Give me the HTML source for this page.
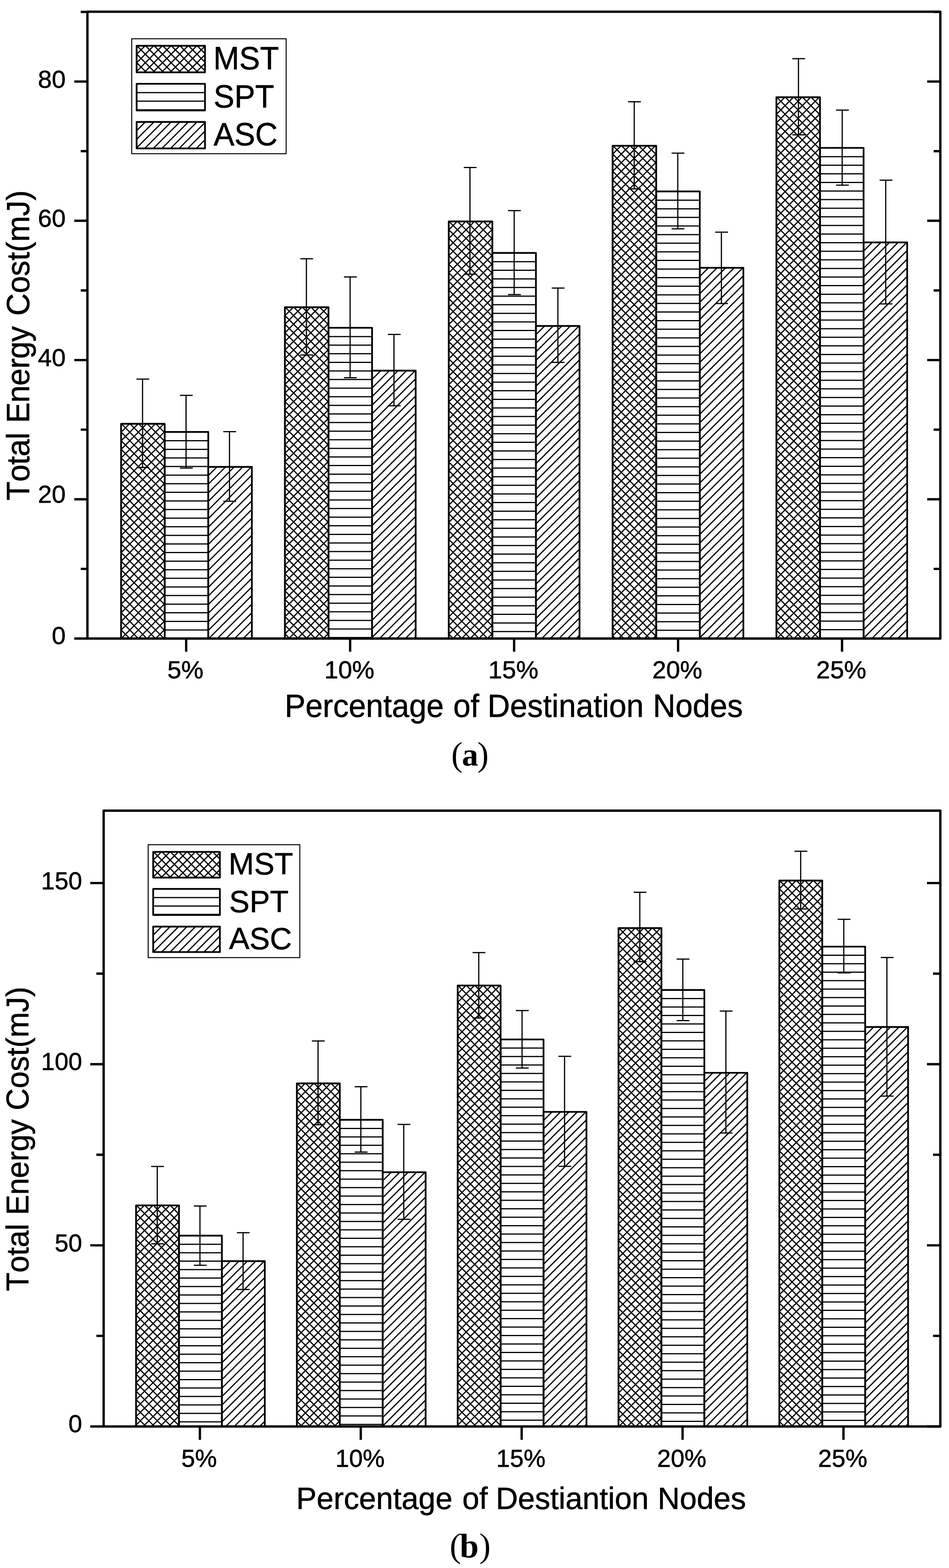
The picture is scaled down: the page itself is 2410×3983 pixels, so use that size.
<!DOCTYPE html>
<html lang="en"><head><meta charset="utf-8"><title>Total Energy Cost</title>
<style>html,body{margin:0;padding:0;background:#fff}body{width:2410px;height:3983px;overflow:hidden}svg{display:block}.t{font-family:"Liberation Sans",sans-serif;fill:#000;stroke:#000;stroke-width:.8px;stroke-linejoin:round;font-kerning:none;font-variant-ligatures:none}.s{font-family:"Liberation Serif",serif;fill:#000}</style></head><body>
<svg width="2410" height="3983" viewBox="0 0 2410 3983">
<rect width="2410" height="3983" fill="#fff"/>
<g fill="none" stroke="#000" stroke-linecap="butt" stroke-linejoin="round">
<path d="M307.5 1098L328.9 1076.5M307.5 1119.8L350.8 1076.5M307.5 1141.7L372.6 1076.5M307.5 1163.5L394.5 1076.5M307.5 1185.3L416.4 1076.5M307.5 1207.2L418.2 1096.5M307.5 1229L418.2 1118.3M307.5 1250.9L418.2 1140.2M307.5 1272.8L418.2 1162M307.5 1294.6L418.2 1183.9M307.5 1316.5L418.2 1205.8M307.5 1338.3L418.2 1227.6M307.5 1360.2L418.2 1249.5M307.5 1382L418.2 1271.3M307.5 1403.8L418.2 1293.2M307.5 1425.7L418.2 1315M307.5 1447.6L418.2 1336.9M307.5 1469.4L418.2 1358.7M307.5 1491.2L418.2 1380.6M307.5 1513.1L418.2 1402.4M307.5 1535L418.2 1424.2M307.5 1556.8L418.2 1446.1M307.5 1578.7L418.2 1468M307.5 1600.5L418.2 1489.8M307.9 1622L418.2 1511.7M329.7 1622L418.2 1533.5M351.6 1622L418.2 1555.4M373.4 1622L418.2 1577.2M395.3 1622L418.2 1599.1M417.1 1622L418.2 1620.9M307.5 1600.1L329.4 1622M307.5 1578.2L351.2 1622M307.5 1556.4L373.1 1622M307.5 1534.5L394.9 1622M307.5 1512.7L416.8 1622M307.5 1490.8L418.2 1601.5M307.5 1469L418.2 1579.7M307.5 1447.2L418.2 1557.8M307.5 1425.3L418.2 1536M307.5 1403.5L418.2 1514.2M307.5 1381.6L418.2 1492.3M307.5 1359.8L418.2 1470.5M307.5 1337.9L418.2 1448.6M307.5 1316L418.2 1426.8M307.5 1294.2L418.2 1404.9M307.5 1272.3L418.2 1383M307.5 1250.5L418.2 1361.2M307.5 1228.7L418.2 1339.3M307.5 1206.8L418.2 1317.5M307.5 1185L418.2 1295.7M307.5 1163.1L418.2 1273.8M307.5 1141.2L418.2 1252M307.5 1119.4L418.2 1230.1M307.5 1097.5L418.2 1208.2M308.3 1076.5L418.2 1186.4M330.1 1076.5L418.2 1164.5M352 1076.5L418.2 1142.7M373.9 1076.5L418.2 1120.8M395.7 1076.5L418.2 1099M417.6 1076.5L418.2 1077.2" stroke-width="3.1"/>
<rect x="307.5" y="1076.5" width="110.7" height="545.5" stroke-width="4.4"/>
<path d="M418.2 1119.5H528.9M418.2 1141.4H528.9M418.2 1163.2H528.9M418.2 1185.1H528.9M418.2 1206.9H528.9M418.2 1228.8H528.9M418.2 1250.6H528.9M418.2 1272.5H528.9M418.2 1294.3H528.9M418.2 1316.2H528.9M418.2 1338H528.9M418.2 1359.9H528.9M418.2 1381.7H528.9M418.2 1403.6H528.9M418.2 1425.4H528.9M418.2 1447.3H528.9M418.2 1469.1H528.9M418.2 1491H528.9M418.2 1512.8H528.9M418.2 1534.7H528.9M418.2 1556.5H528.9M418.2 1578.4H528.9M418.2 1600.2H528.9" stroke-width="3"/>
<rect x="418.2" y="1097.3" width="110.7" height="524.7" stroke-width="4.4"/>
<path d="M528.9 1208.2L551 1186M528.9 1230L572.9 1186M528.9 1251.8L594.8 1186M528.9 1273.7L616.6 1186M528.9 1295.5L638.4 1186M528.9 1317.4L639.6 1206.7M528.9 1339.2L639.6 1228.5M528.9 1361.1L639.6 1250.4M528.9 1383L639.6 1272.2M528.9 1404.8L639.6 1294.1M528.9 1426.7L639.6 1316M528.9 1448.5L639.6 1337.8M528.9 1470.3L639.6 1359.7M528.9 1492.2L639.6 1381.5M528.9 1514L639.6 1403.3M528.9 1535.9L639.6 1425.2M528.9 1557.8L639.6 1447M528.9 1579.6L639.6 1468.9M528.9 1601.5L639.6 1490.8M530.2 1622L639.6 1512.6M552 1622L639.6 1534.5M573.9 1622L639.6 1556.3M595.8 1622L639.6 1578.2M617.6 1622L639.6 1600" stroke-width="3.1"/>
<rect x="528.9" y="1186" width="110.7" height="436" stroke-width="4.4"/>
<path d="M723.5 801.9L745 780.4M723.5 823.7L766.8 780.4M723.5 845.5L788.7 780.4M723.5 867.4L810.5 780.4M723.5 889.2L832.4 780.4M723.5 911.1L834.2 800.4M723.5 933L834.2 822.2M723.5 954.8L834.2 844.1M723.5 976.6L834.2 865.9M723.5 998.5L834.2 887.8M723.5 1020.4L834.2 909.6M723.5 1042.2L834.2 931.5M723.5 1064L834.2 953.3M723.5 1085.9L834.2 975.2M723.5 1107.8L834.2 997M723.5 1129.6L834.2 1018.9M723.5 1151.5L834.2 1040.8M723.5 1173.3L834.2 1062.6M723.5 1195.2L834.2 1084.5M723.5 1217L834.2 1106.3M723.5 1238.8L834.2 1128.2M723.5 1260.7L834.2 1150M723.5 1282.5L834.2 1171.8M723.5 1304.4L834.2 1193.7M723.5 1326.2L834.2 1215.5M723.5 1348.1L834.2 1237.4M723.5 1370L834.2 1259.2M723.5 1391.8L834.2 1281.1M723.5 1413.7L834.2 1303M723.5 1435.5L834.2 1324.8M723.5 1457.3L834.2 1346.7M723.5 1479.2L834.2 1368.5M723.5 1501.1L834.2 1390.3M723.5 1522.9L834.2 1412.2M723.5 1544.8L834.2 1434M723.5 1566.6L834.2 1455.9M723.5 1588.5L834.2 1477.8M723.5 1610.3L834.2 1499.6M733.7 1622L834.2 1521.5M755.5 1622L834.2 1543.3M777.4 1622L834.2 1565.2M799.2 1622L834.2 1587M821.1 1622L834.2 1608.8M723.5 1609.9L735.6 1622M723.5 1588.1L757.5 1622M723.5 1566.2L779.3 1622M723.5 1544.3L801.2 1622M723.5 1522.5L823 1622M723.5 1500.7L834.2 1611.4M723.5 1478.8L834.2 1589.5M723.5 1457L834.2 1567.7M723.5 1435.1L834.2 1545.8M723.5 1413.2L834.2 1524M723.5 1391.4L834.2 1502.1M723.5 1369.6L834.2 1480.2M723.5 1347.7L834.2 1458.4M723.5 1325.8L834.2 1436.6M723.5 1304L834.2 1414.7M723.5 1282.2L834.2 1392.8M723.5 1260.3L834.2 1371M723.5 1238.5L834.2 1349.2M723.5 1216.6L834.2 1327.3M723.5 1194.8L834.2 1305.5M723.5 1172.9L834.2 1283.6M723.5 1151L834.2 1261.8M723.5 1129.2L834.2 1239.9M723.5 1107.3L834.2 1218M723.5 1085.5L834.2 1196.2M723.5 1063.7L834.2 1174.3M723.5 1041.8L834.2 1152.5M723.5 1020L834.2 1130.7M723.5 998.1L834.2 1108.8M723.5 976.2L834.2 1087M723.5 954.4L834.2 1065.1M723.5 932.5L834.2 1043.2M723.5 910.7L834.2 1021.4M723.5 888.9L834.2 999.5M723.5 867L834.2 977.7M723.5 845.1L834.2 955.9M723.5 823.3L834.2 934M723.5 801.4L834.2 912.2M724.3 780.4L834.2 890.3M746.2 780.4L834.2 868.5M768 780.4L834.2 846.6M789.9 780.4L834.2 824.8M811.8 780.4L834.2 802.9M833.6 780.4L834.2 781.1" stroke-width="3.1"/>
<rect x="723.5" y="780.4" width="110.7" height="841.6" stroke-width="4.4"/>
<path d="M834.2 854.9H945M834.2 876.7H945M834.2 898.6H945M834.2 920.4H945M834.2 942.3H945M834.2 964.1H945M834.2 986H945M834.2 1007.8H945M834.2 1029.7H945M834.2 1051.5H945M834.2 1073.3H945M834.2 1095.2H945M834.2 1117H945M834.2 1138.9H945M834.2 1160.7H945M834.2 1182.6H945M834.2 1204.4H945M834.2 1226.3H945M834.2 1248.1H945M834.2 1270H945M834.2 1291.8H945M834.2 1313.7H945M834.2 1335.5H945M834.2 1357.4H945M834.2 1379.2H945M834.2 1401.1H945M834.2 1422.9H945M834.2 1444.8H945M834.2 1466.6H945M834.2 1488.5H945M834.2 1510.3H945M834.2 1532.2H945M834.2 1554H945M834.2 1575.9H945M834.2 1597.7H945M834.2 1619.6H945" stroke-width="3"/>
<rect x="834.2" y="832.6" width="110.7" height="789.4" stroke-width="4.4"/>
<path d="M944.9 963.6L967.1 941.5M944.9 985.5L988.9 941.5M944.9 1007.4L1010.8 941.5M944.9 1029.2L1032.6 941.5M944.9 1051L1054.5 941.5M944.9 1072.9L1055.6 962.2M944.9 1094.8L1055.6 984.1M944.9 1116.6L1055.6 1005.9M944.9 1138.5L1055.6 1027.8M944.9 1160.3L1055.6 1049.6M944.9 1182.2L1055.6 1071.5M944.9 1204L1055.6 1093.3M944.9 1225.8L1055.6 1115.2M944.9 1247.7L1055.6 1137M944.9 1269.5L1055.6 1158.9M944.9 1291.4L1055.6 1180.7M944.9 1313.2L1055.6 1202.6M944.9 1335.1L1055.6 1224.4M944.9 1357L1055.6 1246.2M944.9 1378.8L1055.6 1268.1M944.9 1400.7L1055.6 1290M944.9 1422.5L1055.6 1311.8M944.9 1444.3L1055.6 1333.7M944.9 1466.2L1055.6 1355.5M944.9 1488L1055.6 1377.3M944.9 1509.9L1055.6 1399.2M944.9 1531.8L1055.6 1421.1M944.9 1553.6L1055.6 1442.9M944.9 1575.5L1055.6 1464.8M944.9 1597.3L1055.6 1486.6M944.9 1619.2L1055.6 1508.5M963.9 1622L1055.6 1530.3M985.8 1622L1055.6 1552.2M1007.6 1622L1055.6 1574M1029.5 1622L1055.6 1595.8M1051.3 1622L1055.6 1617.7" stroke-width="3.1"/>
<rect x="944.9" y="941.5" width="110.7" height="680.5" stroke-width="4.4"/>
<path d="M1139.6 584L1161 562.5M1139.6 605.8L1182.9 562.5M1139.6 627.6L1204.8 562.5M1139.6 649.5L1226.6 562.5M1139.6 671.4L1248.4 562.5M1139.6 693.2L1250.3 582.5M1139.6 715L1250.3 604.3M1139.6 736.9L1250.3 626.2M1139.6 758.8L1250.3 648M1139.6 780.6L1250.3 669.9M1139.6 802.5L1250.3 691.8M1139.6 824.3L1250.3 713.6M1139.6 846.2L1250.3 735.5M1139.6 868L1250.3 757.3M1139.6 889.9L1250.3 779.1M1139.6 911.7L1250.3 801M1139.6 933.6L1250.3 822.9M1139.6 955.4L1250.3 844.7M1139.6 977.2L1250.3 866.5M1139.6 999.1L1250.3 888.4M1139.6 1021L1250.3 910.2M1139.6 1042.8L1250.3 932.1M1139.6 1064.7L1250.3 954M1139.6 1086.5L1250.3 975.8M1139.6 1108.3L1250.3 997.6M1139.6 1130.2L1250.3 1019.5M1139.6 1152.1L1250.3 1041.3M1139.6 1173.9L1250.3 1063.2M1139.6 1195.8L1250.3 1085.1M1139.6 1217.6L1250.3 1106.9M1139.6 1239.5L1250.3 1128.8M1139.6 1261.3L1250.3 1150.6M1139.6 1283.2L1250.3 1172.5M1139.6 1305L1250.3 1194.3M1139.6 1326.8L1250.3 1216.2M1139.6 1348.7L1250.3 1238M1139.6 1370.6L1250.3 1259.8M1139.6 1392.4L1250.3 1281.7M1139.6 1414.2L1250.3 1303.6M1139.6 1436.1L1250.3 1325.4M1139.6 1458L1250.3 1347.2M1139.6 1479.8L1250.3 1369.1M1139.6 1501.7L1250.3 1391M1139.6 1523.5L1250.3 1412.8M1139.6 1545.4L1250.3 1434.7M1139.6 1567.2L1250.3 1456.5M1139.6 1589L1250.3 1478.3M1139.6 1610.9L1250.3 1500.2M1150.3 1622L1250.3 1522M1172.2 1622L1250.3 1543.9M1194 1622L1250.3 1565.8M1215.9 1622L1250.3 1587.6M1237.8 1622L1250.3 1609.5M1139.6 1610.5L1151.1 1622M1139.6 1588.7L1172.9 1622M1139.6 1566.8L1194.8 1622M1139.6 1545L1216.6 1622M1139.6 1523.1L1238.5 1622M1139.6 1501.2L1250.3 1612M1139.6 1479.4L1250.3 1590.1M1139.6 1457.6L1250.3 1568.2M1139.6 1435.7L1250.3 1546.4M1139.6 1413.9L1250.3 1524.6M1139.6 1392L1250.3 1502.7M1139.6 1370.2L1250.3 1480.9M1139.6 1348.3L1250.3 1459M1139.6 1326.5L1250.3 1437.2M1139.6 1304.6L1250.3 1415.3M1139.6 1282.8L1250.3 1393.5M1139.6 1260.9L1250.3 1371.6M1139.6 1239.1L1250.3 1349.8M1139.6 1217.2L1250.3 1327.9M1139.6 1195.4L1250.3 1306.1M1139.6 1173.5L1250.3 1284.2M1139.6 1151.7L1250.3 1262.4M1139.6 1129.8L1250.3 1240.5M1139.6 1108L1250.3 1218.7M1139.6 1086.1L1250.3 1196.8M1139.6 1064.2L1250.3 1175M1139.6 1042.4L1250.3 1153.1M1139.6 1020.5L1250.3 1131.2M1139.6 998.7L1250.3 1109.4M1139.6 976.9L1250.3 1087.6M1139.6 955L1250.3 1065.7M1139.6 933.2L1250.3 1043.9M1139.6 911.3L1250.3 1022M1139.6 889.5L1250.3 1000.2M1139.6 867.6L1250.3 978.3M1139.6 845.8L1250.3 956.5M1139.6 823.9L1250.3 934.6M1139.6 802L1250.3 912.8M1139.6 780.2L1250.3 890.9M1139.6 758.4L1250.3 869.1M1139.6 736.5L1250.3 847.2M1139.6 714.6L1250.3 825.4M1139.6 692.8L1250.3 803.5M1139.6 671L1250.3 781.7M1139.6 649.1L1250.3 759.8M1139.6 627.2L1250.3 738M1139.6 605.4L1250.3 716.1M1139.6 583.5L1250.3 694.2M1140.4 562.5L1250.3 672.4M1162.2 562.5L1250.3 650.6M1184.1 562.5L1250.3 628.7M1205.9 562.5L1250.3 606.9M1227.8 562.5L1250.3 585M1249.6 562.5L1250.3 563.2" stroke-width="3.1"/>
<rect x="1139.6" y="562.5" width="110.7" height="1059.5" stroke-width="4.4"/>
<path d="M1250.3 664.8H1361M1250.3 686.6H1361M1250.3 708.5H1361M1250.3 730.3H1361M1250.3 752.2H1361M1250.3 774H1361M1250.3 795.9H1361M1250.3 817.7H1361M1250.3 839.6H1361M1250.3 861.4H1361M1250.3 883.3H1361M1250.3 905.1H1361M1250.3 927H1361M1250.3 948.8H1361M1250.3 970.7H1361M1250.3 992.5H1361M1250.3 1014.4H1361M1250.3 1036.2H1361M1250.3 1058.1H1361M1250.3 1079.9H1361M1250.3 1101.8H1361M1250.3 1123.6H1361M1250.3 1145.4H1361M1250.3 1167.3H1361M1250.3 1189.1H1361M1250.3 1211H1361M1250.3 1232.8H1361M1250.3 1254.7H1361M1250.3 1276.5H1361M1250.3 1298.4H1361M1250.3 1320.2H1361M1250.3 1342.1H1361M1250.3 1363.9H1361M1250.3 1385.8H1361M1250.3 1407.6H1361M1250.3 1429.5H1361M1250.3 1451.3H1361M1250.3 1473.2H1361M1250.3 1495H1361M1250.3 1516.9H1361M1250.3 1538.7H1361M1250.3 1560.6H1361M1250.3 1582.4H1361M1250.3 1604.3H1361" stroke-width="3"/>
<rect x="1250.3" y="642.5" width="110.7" height="979.5" stroke-width="4.4"/>
<path d="M1361 850.1L1383.2 828M1361 872L1405 828M1361 893.9L1426.8 828M1361 915.7L1448.7 828M1361 937.5L1470.5 828M1361 959.4L1471.7 848.7M1361 981.2L1471.7 870.5M1361 1003.1L1471.7 892.4M1361 1025L1471.7 914.2M1361 1046.8L1471.7 936.1M1361 1068.7L1471.7 958M1361 1090.5L1471.7 979.8M1361 1112.3L1471.7 1001.6M1361 1134.2L1471.7 1023.5M1361 1156L1471.7 1045.3M1361 1177.9L1471.7 1067.2M1361 1199.8L1471.7 1089M1361 1221.6L1471.7 1110.9M1361 1243.5L1471.7 1132.8M1361 1265.3L1471.7 1154.6M1361 1287.2L1471.7 1176.5M1361 1309L1471.7 1198.3M1361 1330.8L1471.7 1220.2M1361 1352.7L1471.7 1242M1361 1374.5L1471.7 1263.8M1361 1396.4L1471.7 1285.7M1361 1418.2L1471.7 1307.5M1361 1440.1L1471.7 1329.4M1361 1462L1471.7 1351.2M1361 1483.8L1471.7 1373.1M1361 1505.7L1471.7 1394.9M1361 1527.5L1471.7 1416.8M1361 1549.3L1471.7 1438.7M1361 1571.2L1471.7 1460.5M1361 1593L1471.7 1482.3M1361 1614.9L1471.7 1504.2M1375.8 1622L1471.7 1526M1397.6 1622L1471.7 1547.9M1419.5 1622L1471.7 1569.8M1441.3 1622L1471.7 1591.6M1463.2 1622L1471.7 1613.4" stroke-width="3.1"/>
<rect x="1361" y="828" width="110.7" height="794" stroke-width="4.4"/>
<path d="M1555.7 391.6L1577.1 370.2M1555.7 413.5L1599 370.2M1555.7 435.4L1620.8 370.2M1555.7 457.2L1642.7 370.2M1555.7 479L1664.5 370.2M1555.7 500.9L1666.4 390.2M1555.7 522.8L1666.4 412M1555.7 544.6L1666.4 433.9M1555.7 566.5L1666.4 455.7M1555.7 588.3L1666.4 477.6M1555.7 610.1L1666.4 499.4M1555.7 632L1666.4 521.3M1555.7 653.9L1666.4 543.1M1555.7 675.7L1666.4 565M1555.7 697.5L1666.4 586.8M1555.7 719.4L1666.4 608.7M1555.7 741.2L1666.4 630.5M1555.7 763.1L1666.4 652.4M1555.7 785L1666.4 674.2M1555.7 806.8L1666.4 696.1M1555.7 828.7L1666.4 718M1555.7 850.5L1666.4 739.8M1555.7 872.4L1666.4 761.6M1555.7 894.2L1666.4 783.5M1555.7 916L1666.4 805.3M1555.7 937.9L1666.4 827.2M1555.7 959.8L1666.4 849M1555.7 981.6L1666.4 870.9M1555.7 1003.5L1666.4 892.8M1555.7 1025.3L1666.4 914.6M1555.7 1047.2L1666.4 936.5M1555.7 1069L1666.4 958.3M1555.7 1090.9L1666.4 980.2M1555.7 1112.7L1666.4 1002M1555.7 1134.5L1666.4 1023.8M1555.7 1156.4L1666.4 1045.7M1555.7 1178.2L1666.4 1067.5M1555.7 1200.1L1666.4 1089.4M1555.7 1222L1666.4 1111.2M1555.7 1243.8L1666.4 1133.1M1555.7 1265.7L1666.4 1155M1555.7 1287.5L1666.4 1176.8M1555.7 1309.4L1666.4 1198.7M1555.7 1331.2L1666.4 1220.5M1555.7 1353.1L1666.4 1242.4M1555.7 1374.9L1666.4 1264.2M1555.7 1396.8L1666.4 1286M1555.7 1418.6L1666.4 1307.9M1555.7 1440.5L1666.4 1329.8M1555.7 1462.3L1666.4 1351.6M1555.7 1484.2L1666.4 1373.5M1555.7 1506L1666.4 1395.3M1555.7 1527.9L1666.4 1417.2M1555.7 1549.7L1666.4 1439M1555.7 1571.5L1666.4 1460.8M1555.7 1593.4L1666.4 1482.7M1555.7 1615.2L1666.4 1504.5M1570.8 1622L1666.4 1526.4M1592.6 1622L1666.4 1548.2M1614.5 1622L1666.4 1570.1M1636.3 1622L1666.4 1592M1658.2 1622L1666.4 1613.8M1555.7 1614.9L1562.8 1622M1555.7 1593L1584.6 1622M1555.7 1571.2L1606.5 1622M1555.7 1549.3L1628.3 1622M1555.7 1527.5L1650.2 1622M1555.7 1505.6L1666.4 1616.3M1555.7 1483.8L1666.4 1594.5M1555.7 1461.9L1666.4 1572.6M1555.7 1440.1L1666.4 1550.8M1555.7 1418.2L1666.4 1528.9M1555.7 1396.4L1666.4 1507.1M1555.7 1374.5L1666.4 1485.2M1555.7 1352.7L1666.4 1463.4M1555.7 1330.8L1666.4 1441.5M1555.7 1309L1666.4 1419.7M1555.7 1287.1L1666.4 1397.8M1555.7 1265.2L1666.4 1376M1555.7 1243.4L1666.4 1354.1M1555.7 1221.6L1666.4 1332.3M1555.7 1199.7L1666.4 1310.4M1555.7 1177.9L1666.4 1288.6M1555.7 1156L1666.4 1266.7M1555.7 1134.2L1666.4 1244.9M1555.7 1112.3L1666.4 1223M1555.7 1090.5L1666.4 1201.2M1555.7 1068.6L1666.4 1179.3M1555.7 1046.8L1666.4 1157.5M1555.7 1024.9L1666.4 1135.6M1555.7 1003.1L1666.4 1113.8M1555.7 981.2L1666.4 1091.9M1555.7 959.4L1666.4 1070.1M1555.7 937.5L1666.4 1048.2M1555.7 915.7L1666.4 1026.4M1555.7 893.8L1666.4 1004.5M1555.7 872L1666.4 982.7M1555.7 850.1L1666.4 960.8M1555.7 828.2L1666.4 939M1555.7 806.4L1666.4 917.1M1555.7 784.5L1666.4 895.2M1555.7 762.7L1666.4 873.4M1555.7 740.9L1666.4 851.6M1555.7 719L1666.4 829.7M1555.7 697.1L1666.4 807.9M1555.7 675.3L1666.4 786M1555.7 653.5L1666.4 764.2M1555.7 631.6L1666.4 742.3M1555.7 609.8L1666.4 720.5M1555.7 587.9L1666.4 698.6M1555.7 566L1666.4 676.8M1555.7 544.2L1666.4 654.9M1555.7 522.4L1666.4 633M1555.7 500.5L1666.4 611.2M1555.7 478.6L1666.4 589.4M1555.7 456.8L1666.4 567.5M1555.7 434.9L1666.4 545.7M1555.7 413.1L1666.4 523.8M1555.7 391.2L1666.4 502M1556.5 370.2L1666.4 480.1M1578.3 370.2L1666.4 458.2M1600.2 370.2L1666.4 436.4M1622 370.2L1666.4 414.6M1643.9 370.2L1666.4 392.7M1665.7 370.2L1666.4 370.9" stroke-width="3.1"/>
<rect x="1555.7" y="370.2" width="110.7" height="1251.8" stroke-width="4.4"/>
<path d="M1666.4 508.6H1777.1M1666.4 530.4H1777.1M1666.4 552.2H1777.1M1666.4 574.1H1777.1M1666.4 596H1777.1M1666.4 617.8H1777.1M1666.4 639.7H1777.1M1666.4 661.5H1777.1M1666.4 683.4H1777.1M1666.4 705.2H1777.1M1666.4 727.1H1777.1M1666.4 748.9H1777.1M1666.4 770.8H1777.1M1666.4 792.6H1777.1M1666.4 814.5H1777.1M1666.4 836.3H1777.1M1666.4 858.2H1777.1M1666.4 880H1777.1M1666.4 901.9H1777.1M1666.4 923.7H1777.1M1666.4 945.6H1777.1M1666.4 967.4H1777.1M1666.4 989.3H1777.1M1666.4 1011.1H1777.1M1666.4 1033H1777.1M1666.4 1054.8H1777.1M1666.4 1076.7H1777.1M1666.4 1098.5H1777.1M1666.4 1120.4H1777.1M1666.4 1142.2H1777.1M1666.4 1164H1777.1M1666.4 1185.9H1777.1M1666.4 1207.7H1777.1M1666.4 1229.6H1777.1M1666.4 1251.4H1777.1M1666.4 1273.3H1777.1M1666.4 1295.1H1777.1M1666.4 1317H1777.1M1666.4 1338.8H1777.1M1666.4 1360.7H1777.1M1666.4 1382.5H1777.1M1666.4 1404.4H1777.1M1666.4 1426.2H1777.1M1666.4 1448.1H1777.1M1666.4 1469.9H1777.1M1666.4 1491.8H1777.1M1666.4 1513.6H1777.1M1666.4 1535.5H1777.1M1666.4 1557.3H1777.1M1666.4 1579.2H1777.1M1666.4 1601H1777.1" stroke-width="3"/>
<rect x="1666.4" y="486.3" width="110.7" height="1135.7" stroke-width="4.4"/>
<path d="M1777.1 702.4L1799.2 680.2M1777.1 724.2L1821.1 680.2M1777.1 746.1L1842.9 680.2M1777.1 767.9L1864.8 680.2M1777.1 789.8L1886.6 680.2M1777.1 811.6L1887.8 700.9M1777.1 833.5L1887.8 722.8M1777.1 855.3L1887.8 744.6M1777.1 877.2L1887.8 766.5M1777.1 899L1887.8 788.3M1777.1 920.9L1887.8 810.2M1777.1 942.7L1887.8 832M1777.1 964.6L1887.8 853.9M1777.1 986.4L1887.8 875.7M1777.1 1008.2L1887.8 897.5M1777.1 1030.1L1887.8 919.4M1777.1 1052L1887.8 941.2M1777.1 1073.8L1887.8 963.1M1777.1 1095.7L1887.8 985M1777.1 1117.5L1887.8 1006.8M1777.1 1139.4L1887.8 1028.7M1777.1 1161.2L1887.8 1050.5M1777.1 1183.1L1887.8 1072.3M1777.1 1204.9L1887.8 1094.2M1777.1 1226.8L1887.8 1116M1777.1 1248.6L1887.8 1137.9M1777.1 1270.5L1887.8 1159.8M1777.1 1292.3L1887.8 1181.6M1777.1 1314.2L1887.8 1203.5M1777.1 1336L1887.8 1225.3M1777.1 1357.8L1887.8 1247.2M1777.1 1379.7L1887.8 1269M1777.1 1401.6L1887.8 1290.8M1777.1 1423.4L1887.8 1312.7M1777.1 1445.2L1887.8 1334.5M1777.1 1467.1L1887.8 1356.4M1777.1 1489L1887.8 1378.2M1777.1 1510.8L1887.8 1400.1M1777.1 1532.7L1887.8 1422M1777.1 1554.5L1887.8 1443.8M1777.1 1576.3L1887.8 1465.7M1777.1 1598.2L1887.8 1487.5M1777.1 1620.1L1887.8 1509.3M1797 1622L1887.8 1531.2M1818.8 1622L1887.8 1553.1M1840.7 1622L1887.8 1574.9M1862.5 1622L1887.8 1596.8M1884.4 1622L1887.8 1618.6" stroke-width="3.1"/>
<rect x="1777.1" y="680.2" width="110.7" height="941.8" stroke-width="4.4"/>
<path d="M1971.7 268.4L1993.2 247M1971.7 290.3L2015 247M1971.7 312.1L2036.9 247M1971.7 334L2058.7 247M1971.7 355.9L2080.6 247M1971.7 377.7L2082.4 267M1971.7 399.6L2082.4 288.8M1971.7 421.4L2082.4 310.7M1971.7 443.2L2082.4 332.5M1971.7 465.1L2082.4 354.4M1971.7 487L2082.4 376.2M1971.7 508.8L2082.4 398.1M1971.7 530.7L2082.4 419.9M1971.7 552.5L2082.4 441.8M1971.7 574.4L2082.4 463.6M1971.7 596.2L2082.4 485.5M1971.7 618.1L2082.4 507.4M1971.7 639.9L2082.4 529.2M1971.7 661.8L2082.4 551M1971.7 683.6L2082.4 572.9M1971.7 705.5L2082.4 594.8M1971.7 727.3L2082.4 616.6M1971.7 749.2L2082.4 638.5M1971.7 771L2082.4 660.3M1971.7 792.9L2082.4 682.1M1971.7 814.7L2082.4 704M1971.7 836.6L2082.4 725.9M1971.7 858.4L2082.4 747.7M1971.7 880.3L2082.4 769.6M1971.7 902.1L2082.4 791.4M1971.7 924L2082.4 813.2M1971.7 945.8L2082.4 835.1M1971.7 967.7L2082.4 857M1971.7 989.5L2082.4 878.8M1971.7 1011.4L2082.4 900.6M1971.7 1033.2L2082.4 922.5M1971.7 1055.1L2082.4 944.4M1971.7 1076.9L2082.4 966.2M1971.7 1098.8L2082.4 988.1M1971.7 1120.6L2082.4 1009.9M1971.7 1142.5L2082.4 1031.8M1971.7 1164.3L2082.4 1053.6M1971.7 1186.2L2082.4 1075.5M1971.7 1208L2082.4 1097.3M1971.7 1229.9L2082.4 1119.2M1971.7 1251.7L2082.4 1141M1971.7 1273.5L2082.4 1162.8M1971.7 1295.4L2082.4 1184.7M1971.7 1317.2L2082.4 1206.5M1971.7 1339.1L2082.4 1228.4M1971.7 1361L2082.4 1250.2M1971.7 1382.8L2082.4 1272.1M1971.7 1404.7L2082.4 1294M1971.7 1426.5L2082.4 1315.8M1971.7 1448.3L2082.4 1337.6M1971.7 1470.2L2082.4 1359.5M1971.7 1492L2082.4 1381.3M1971.7 1513.9L2082.4 1403.2M1971.7 1535.8L2082.4 1425M1971.7 1557.6L2082.4 1446.9M1971.7 1579.5L2082.4 1468.8M1971.7 1601.3L2082.4 1490.6M1972.9 1622L2082.4 1512.5M1994.7 1622L2082.4 1534.3M2016.5 1622L2082.4 1556.1M2038.4 1622L2082.4 1578M2060.2 1622L2082.4 1599.8M1971.7 1600.9L1992.8 1622M1971.7 1579.1L2014.6 1622M1971.7 1557.2L2036.5 1622M1971.7 1535.4L2058.3 1622M1971.7 1513.5L2080.2 1622M1971.7 1491.7L2082.4 1602.4M1971.7 1469.8L2082.4 1580.5M1971.7 1448L2082.4 1558.7M1971.7 1426.1L2082.4 1536.8M1971.7 1404.3L2082.4 1515M1971.7 1382.4L2082.4 1493.1M1971.7 1360.6L2082.4 1471.3M1971.7 1338.7L2082.4 1449.4M1971.7 1316.9L2082.4 1427.6M1971.7 1295L2082.4 1405.7M1971.7 1273.2L2082.4 1383.9M1971.7 1251.3L2082.4 1362M1971.7 1229.5L2082.4 1340.2M1971.7 1207.6L2082.4 1318.3M1971.7 1185.8L2082.4 1296.5M1971.7 1163.9L2082.4 1274.6M1971.7 1142.1L2082.4 1252.8M1971.7 1120.2L2082.4 1230.9M1971.7 1098.4L2082.4 1209.1M1971.7 1076.5L2082.4 1187.2M1971.7 1054.7L2082.4 1165.4M1971.7 1032.8L2082.4 1143.5M1971.7 1011L2082.4 1121.7M1971.7 989.1L2082.4 1099.8M1971.7 967.3L2082.4 1078M1971.7 945.4L2082.4 1056.1M1971.7 923.6L2082.4 1034.2M1971.7 901.7L2082.4 1012.4M1971.7 879.9L2082.4 990.6M1971.7 858L2082.4 968.7M1971.7 836.2L2082.4 946.9M1971.7 814.3L2082.4 925M1971.7 792.5L2082.4 903.2M1971.7 770.6L2082.4 881.3M1971.7 748.8L2082.4 859.5M1971.7 726.9L2082.4 837.6M1971.7 705L2082.4 815.8M1971.7 683.2L2082.4 793.9M1971.7 661.4L2082.4 772.1M1971.7 639.5L2082.4 750.2M1971.7 617.7L2082.4 728.4M1971.7 595.8L2082.4 706.5M1971.7 574L2082.4 684.7M1971.7 552.1L2082.4 662.8M1971.7 530.2L2082.4 641M1971.7 508.4L2082.4 619.1M1971.7 486.6L2082.4 597.2M1971.7 464.7L2082.4 575.4M1971.7 442.9L2082.4 553.6M1971.7 421L2082.4 531.7M1971.7 399.1L2082.4 509.9M1971.7 377.3L2082.4 488M1971.7 355.4L2082.4 466.2M1971.7 333.6L2082.4 444.3M1971.7 311.8L2082.4 422.5M1971.7 289.9L2082.4 400.6M1971.7 268.1L2082.4 378.8M1972.5 247L2082.4 356.9M1994.4 247L2082.4 335.1M2016.2 247L2082.4 313.2M2038 247L2082.4 291.4M2059.9 247L2082.4 269.5M2081.8 247L2082.4 247.7" stroke-width="3.1"/>
<rect x="1971.7" y="247" width="110.7" height="1375" stroke-width="4.4"/>
<path d="M2082.4 397.9H2193.1M2082.4 419.7H2193.1M2082.4 441.6H2193.1M2082.4 463.4H2193.1M2082.4 485.3H2193.1M2082.4 507.1H2193.1M2082.4 529H2193.1M2082.4 550.8H2193.1M2082.4 572.7H2193.1M2082.4 594.5H2193.1M2082.4 616.4H2193.1M2082.4 638.2H2193.1M2082.4 660.1H2193.1M2082.4 681.9H2193.1M2082.4 703.8H2193.1M2082.4 725.6H2193.1M2082.4 747.5H2193.1M2082.4 769.3H2193.1M2082.4 791.2H2193.1M2082.4 813H2193.1M2082.4 834.9H2193.1M2082.4 856.7H2193.1M2082.4 878.6H2193.1M2082.4 900.4H2193.1M2082.4 922.3H2193.1M2082.4 944.1H2193.1M2082.4 966H2193.1M2082.4 987.8H2193.1M2082.4 1009.7H2193.1M2082.4 1031.5H2193.1M2082.4 1053.4H2193.1M2082.4 1075.2H2193.1M2082.4 1097.1H2193.1M2082.4 1118.9H2193.1M2082.4 1140.8H2193.1M2082.4 1162.6H2193.1M2082.4 1184.5H2193.1M2082.4 1206.3H2193.1M2082.4 1228.1H2193.1M2082.4 1250H2193.1M2082.4 1271.8H2193.1M2082.4 1293.7H2193.1M2082.4 1315.5H2193.1M2082.4 1337.4H2193.1M2082.4 1359.2H2193.1M2082.4 1381.1H2193.1M2082.4 1402.9H2193.1M2082.4 1424.8H2193.1M2082.4 1446.6H2193.1M2082.4 1468.5H2193.1M2082.4 1490.3H2193.1M2082.4 1512.2H2193.1M2082.4 1534H2193.1M2082.4 1555.9H2193.1M2082.4 1577.7H2193.1M2082.4 1599.6H2193.1" stroke-width="3"/>
<rect x="2082.4" y="375.6" width="110.7" height="1246.4" stroke-width="4.4"/>
<path d="M2193.1 637.9L2215.2 615.8M2193.1 659.8L2237.1 615.8M2193.1 681.6L2258.9 615.8M2193.1 703.5L2280.8 615.8M2193.1 725.3L2302.7 615.8M2193.1 747.2L2303.8 636.5M2193.1 769L2303.8 658.4M2193.1 790.9L2303.8 680.2M2193.1 812.8L2303.8 702.1M2193.1 834.6L2303.8 723.9M2193.1 856.5L2303.8 745.8M2193.1 878.3L2303.8 767.6M2193.1 900.1L2303.8 789.5M2193.1 922L2303.8 811.3M2193.1 943.8L2303.8 833.2M2193.1 965.7L2303.8 855M2193.1 987.5L2303.8 876.9M2193.1 1009.4L2303.8 898.7M2193.1 1031.2L2303.8 920.6M2193.1 1053.1L2303.8 942.4M2193.1 1075L2303.8 964.3M2193.1 1096.8L2303.8 986.1M2193.1 1118.7L2303.8 1008M2193.1 1140.5L2303.8 1029.8M2193.1 1162.3L2303.8 1051.7M2193.1 1184.2L2303.8 1073.5M2193.1 1206L2303.8 1095.4M2193.1 1227.9L2303.8 1117.2M2193.1 1249.8L2303.8 1139.1M2193.1 1271.6L2303.8 1160.9M2193.1 1293.4L2303.8 1182.8M2193.1 1315.3L2303.8 1204.6M2193.1 1337.2L2303.8 1226.5M2193.1 1359L2303.8 1248.3M2193.1 1380.8L2303.8 1270.2M2193.1 1402.7L2303.8 1292M2193.1 1424.5L2303.8 1313.9M2193.1 1446.4L2303.8 1335.7M2193.1 1468.2L2303.8 1357.6M2193.1 1490.1L2303.8 1379.4M2193.1 1511.9L2303.8 1401.2M2193.1 1533.8L2303.8 1423.1M2193.1 1555.7L2303.8 1445M2193.1 1577.5L2303.8 1466.8M2193.1 1599.3L2303.8 1488.7M2193.1 1621.2L2303.8 1510.5M2214.1 1622L2303.8 1532.4M2236 1622L2303.8 1554.2M2257.8 1622L2303.8 1576.1M2279.7 1622L2303.8 1597.9M2301.6 1622L2303.8 1619.8" stroke-width="3.1"/>
<rect x="2193.1" y="615.8" width="110.7" height="1006.2" stroke-width="4.4"/>
<path d="M362 962.9V1187.5M346.4 962.9H378.9M346.4 1187.5H378.9" stroke-width="3"/>
<path d="M472.5 1004.2V1189.1M456.9 1004.2H489.4M456.9 1189.1H489.4" stroke-width="3"/>
<path d="M582.8 1096.5V1273.3M567.1 1096.5H599.6M567.1 1273.3H599.6" stroke-width="3"/>
<path d="M778.1 657.3V901.7M762.5 657.3H795M762.5 901.7H795" stroke-width="3"/>
<path d="M889.1 703.4V959.4M873.5 703.4H906M873.5 959.4H906" stroke-width="3"/>
<path d="M1000.5 849.4V1030.7M984.9 849.4H1017.4M984.9 1030.7H1017.4" stroke-width="3"/>
<path d="M1193.4 425.5V696.5M1177.8 425.5H1210.2M1177.8 696.5H1210.2" stroke-width="3"/>
<path d="M1305.8 534.9V748.3M1290.1 534.9H1322.6M1290.1 748.3H1322.6" stroke-width="3"/>
<path d="M1416.8 731.7V920.6M1401.1 731.7H1433.6M1401.1 920.6H1433.6" stroke-width="3"/>
<path d="M1610.7 258.4V479.7M1595 258.4H1627.5M1595 479.7H1627.5" stroke-width="3"/>
<path d="M1721.2 389V581.2M1705.5 389H1738M1705.5 581.2H1738" stroke-width="3"/>
<path d="M1832 589.8V771M1816.3 589.8H1848.8M1816.3 771H1848.8" stroke-width="3"/>
<path d="M2027.7 148.9V342.6M2012 148.9H2044.5M2012 342.6H2044.5" stroke-width="3"/>
<path d="M2138.8 279.8V470.3M2123.2 279.8H2155.7M2123.2 470.3H2155.7" stroke-width="3"/>
<path d="M2249.3 457.7V772.1M2233.7 457.7H2266.2M2233.7 772.1H2266.2" stroke-width="3"/>
<rect x="222" y="29.8" width="2166" height="1592.2" stroke-width="5.9"/>
<path d="M222 1622H188.6M2388 1622H2354.6M222 1445.1H205M2388 1445.1H2371M222 1268.3H188.6M2388 1268.3H2354.6M222 1091.4H205M2388 1091.4H2371M222 914.6H188.6M2388 914.6H2354.6M222 737.7H205M2388 737.7H2371M222 560.8H188.6M2388 560.8H2354.6M222 384H205M2388 384H2371M222 207.1H188.6M2388 207.1H2354.6M222 30.3H205M2388 30.3H2371M472.8 1622V1655.4M889.2 1622V1655.4M1305.6 1622V1655.4M1722 1622V1655.4M2138.4 1622V1655.4" stroke-width="5.9"/>
<rect x="334.5" y="98.6" width="392.2" height="291.8" fill="#fff" stroke-width="2.5"/>
<path d="M347 137.8L368.4 116.3M347 159.6L390.3 116.3M347 181.4L412.1 116.3M366.6 183.7L434 116.3M388.4 183.7L455.9 116.3M410.3 183.7L477.7 116.3M432.2 183.7L499.6 116.3M454 183.7L520.6 117.1M475.9 183.7L520.6 138.9M497.7 183.7L520.6 160.8M519.5 183.7L520.6 182.6M347 181.1L349.6 183.7M347 159.2L371.5 183.7M347 137.3L393.4 183.7M347.8 116.3L415.2 183.7M369.6 116.3L437.1 183.7M391.5 116.3L458.9 183.7M413.4 116.3L480.8 183.7M435.2 116.3L502.6 183.7M457.1 116.3L520.6 179.9M478.9 116.3L520.6 158M500.8 116.3L520.6 136.1" stroke-width="3.1"/>
<rect x="347" y="116.3" width="173.6" height="67.4" stroke-width="4.4"/>
<path d="M347 235.2H520.6M347 257H520.6M347 278.9H520.6" stroke-width="3"/>
<rect x="347" y="212.9" width="173.6" height="67.7" stroke-width="4.4"/>
<path d="M347 331.9L369.1 309.8M347 353.8L391 309.8M347 375.7L412.9 309.8M367.5 377L434.7 309.8M389.4 377L456.6 309.8M411.2 377L478.4 309.8M433.1 377L500.2 309.8M454.9 377L520.6 311.3M476.8 377L520.6 333.1M498.6 377L520.6 355" stroke-width="3.1"/>
<rect x="347" y="309.8" width="173.6" height="67.2" stroke-width="4.4"/>
</g>
<g class="t" font-size="63.5">
<text transform="translate(166.8 1636.3) scale(1 1)" text-anchor="end">0</text>
<text transform="translate(166.8 1277.3) scale(1 1)" text-anchor="end">20</text>
<text transform="translate(166.8 930) scale(1 1)" text-anchor="end">40</text>
<text transform="translate(166.8 576.2) scale(1 1)" text-anchor="end">60</text>
<text transform="translate(166.8 222.5) scale(1 1)" text-anchor="end">80</text>
<text transform="translate(470.8 1723.2) scale(1 1)" text-anchor="middle">5%</text>
<text transform="translate(887.2 1723.2) scale(1 1)" text-anchor="middle">10%</text>
<text transform="translate(1303.6 1723.2) scale(1 1)" text-anchor="middle">15%</text>
<text transform="translate(1720 1723.2) scale(1 1)" text-anchor="middle">20%</text>
<text transform="translate(2136.4 1723.2) scale(1 1)" text-anchor="middle">25%</text>
</g>
<g class="t" font-size="79">
<text transform="translate(541.8 175.8) scale(1 1.03)">MST</text>
<text transform="translate(542.6 273.2) scale(1 1.03)">SPT</text>
<text transform="translate(542.5 369.4) scale(1 1.03)">ASC</text>
<text transform="translate(0 1821.3) scale(1 1.03)"><tspan x="723">Percentage</tspan> <tspan x="1151">of</tspan> <tspan x="1238" letter-spacing="0.15">Destination</tspan> <tspan x="1658.2">Nodes</tspan></text>
<text transform="translate(73.7 0) rotate(-90) scale(1 1.03)"><tspan x="-1271.2" letter-spacing="-0.8">Total</tspan> <tspan x="-1074.6" letter-spacing="-0.86">Energy</tspan> <tspan x="-801.9" letter-spacing="-0.23">Cost(mJ)</tspan></text>
</g>
<text class="s" y="1944.6" font-size="86.2"><tspan x="1146.1">(</tspan><tspan x="1173.1" y="1945" font-size="83" font-weight="bold">a</tspan><tspan x="1212.3" y="1944.6">)</tspan></text>
<g fill="none" stroke="#000" stroke-linecap="butt" stroke-linejoin="round">
<path d="M345.5 3083L366.6 3061.9M345.5 3104.5L388.1 3061.9M345.5 3125.9L409.5 3061.9M345.5 3147.4L431 3061.9M345.5 3168.9L452.5 3061.9M345.5 3190.4L454.5 3081.4M345.5 3211.9L454.5 3102.9M345.5 3233.3L454.5 3124.3M345.5 3254.8L454.5 3145.8M345.5 3276.3L454.5 3167.3M345.5 3297.8L454.5 3188.8M345.5 3319.3L454.5 3210.3M345.5 3340.7L454.5 3231.7M345.5 3362.2L454.5 3253.2M345.5 3383.7L454.5 3274.7M345.5 3405.2L454.5 3296.2M345.5 3426.7L454.5 3317.7M345.5 3448.1L454.5 3339.1M345.5 3469.6L454.5 3360.6M345.5 3491.1L454.5 3382.1M345.5 3512.6L454.5 3403.6M345.5 3534.1L454.5 3425.1M345.5 3555.5L454.5 3446.5M345.5 3577L454.5 3468M345.5 3598.5L454.5 3489.5M345.5 3620L454.5 3511M363.5 3623.5L454.5 3532.5M384.9 3623.5L454.5 3553.9M406.4 3623.5L454.5 3575.4M427.9 3623.5L454.5 3596.9M449.4 3623.5L454.5 3618.4M345.5 3619.6L349.4 3623.5M345.5 3598.1L370.9 3623.5M345.5 3576.6L392.4 3623.5M345.5 3555.1L413.9 3623.5M345.5 3533.7L435.3 3623.5M345.5 3512.2L454.5 3621.2M345.5 3490.7L454.5 3599.7M345.5 3469.2L454.5 3578.2M345.5 3447.7L454.5 3556.7M345.5 3426.3L454.5 3535.3M345.5 3404.8L454.5 3513.8M345.5 3383.3L454.5 3492.3M345.5 3361.8L454.5 3470.8M345.5 3340.3L454.5 3449.3M345.5 3318.9L454.5 3427.9M345.5 3297.4L454.5 3406.4M345.5 3275.9L454.5 3384.9M345.5 3254.4L454.5 3363.4M345.5 3232.9L454.5 3341.9M345.5 3211.5L454.5 3320.5M345.5 3190L454.5 3299M345.5 3168.5L454.5 3277.5M345.5 3147L454.5 3256M345.5 3125.5L454.5 3234.5M345.5 3104.1L454.5 3213.1M345.5 3082.6L454.5 3191.6M346.3 3061.9L454.5 3170.1M367.8 3061.9L454.5 3148.6M389.3 3061.9L454.5 3127.1M410.7 3061.9L454.5 3105.7M432.2 3061.9L454.5 3084.2M453.7 3061.9L454.5 3062.7" stroke-width="3.1"/>
<rect x="345.5" y="3061.9" width="109" height="561.6" stroke-width="4.4"/>
<path d="M454.5 3160.7H563.5M454.5 3182.2H563.5M454.5 3203.6H563.5M454.5 3225.1H563.5M454.5 3246.6H563.5M454.5 3268.1H563.5M454.5 3289.6H563.5M454.5 3311H563.5M454.5 3332.5H563.5M454.5 3354H563.5M454.5 3375.5H563.5M454.5 3397H563.5M454.5 3418.4H563.5M454.5 3439.9H563.5M454.5 3461.4H563.5M454.5 3482.9H563.5M454.5 3504.4H563.5M454.5 3525.8H563.5M454.5 3547.3H563.5M454.5 3568.8H563.5M454.5 3590.3H563.5M454.5 3611.8H563.5" stroke-width="3"/>
<rect x="454.5" y="3138.8" width="109" height="484.7" stroke-width="4.4"/>
<path d="M563.5 3225.3L585.3 3203.5M563.5 3246.8L606.8 3203.5M563.5 3268.2L628.2 3203.5M563.5 3289.7L649.7 3203.5M563.5 3311.2L671.2 3203.5M563.5 3332.7L672.5 3223.7M563.5 3354.2L672.5 3245.2M563.5 3375.6L672.5 3266.6M563.5 3397.1L672.5 3288.1M563.5 3418.6L672.5 3309.6M563.5 3440.1L672.5 3331.1M563.5 3461.6L672.5 3352.6M563.5 3483L672.5 3374M563.5 3504.5L672.5 3395.5M563.5 3526L672.5 3417M563.5 3547.5L672.5 3438.5M563.5 3569L672.5 3460M563.5 3590.4L672.5 3481.4M563.5 3611.9L672.5 3502.9M573.4 3623.5L672.5 3524.4M594.9 3623.5L672.5 3545.9M616.4 3623.5L672.5 3567.4M637.8 3623.5L672.5 3588.8M659.3 3623.5L672.5 3610.3" stroke-width="3.1"/>
<rect x="563.5" y="3203.5" width="109" height="420" stroke-width="4.4"/>
<path d="M753.9 2773.1L775 2752M753.9 2794.6L796.5 2752M753.9 2816L817.9 2752M753.9 2837.5L839.4 2752M753.9 2859L860.9 2752M753.9 2880.5L862.9 2771.5M753.9 2902L862.9 2793M753.9 2923.4L862.9 2814.4M753.9 2944.9L862.9 2835.9M753.9 2966.4L862.9 2857.4M753.9 2987.9L862.9 2878.9M753.9 3009.4L862.9 2900.4M753.9 3030.8L862.9 2921.8M753.9 3052.3L862.9 2943.3M753.9 3073.8L862.9 2964.8M753.9 3095.3L862.9 2986.3M753.9 3116.8L862.9 3007.8M753.9 3138.2L862.9 3029.2M753.9 3159.7L862.9 3050.7M753.9 3181.2L862.9 3072.2M753.9 3202.7L862.9 3093.7M753.9 3224.2L862.9 3115.2M753.9 3245.6L862.9 3136.6M753.9 3267.1L862.9 3158.1M753.9 3288.6L862.9 3179.6M753.9 3310.1L862.9 3201.1M753.9 3331.6L862.9 3222.6M753.9 3353L862.9 3244M753.9 3374.5L862.9 3265.5M753.9 3396L862.9 3287M753.9 3417.5L862.9 3308.5M753.9 3439L862.9 3330M753.9 3460.4L862.9 3351.4M753.9 3481.9L862.9 3372.9M753.9 3503.4L862.9 3394.4M753.9 3524.9L862.9 3415.9M753.9 3546.4L862.9 3437.4M753.9 3567.8L862.9 3458.8M753.9 3589.3L862.9 3480.3M753.9 3610.8L862.9 3501.8M762.7 3623.5L862.9 3523.3M784.2 3623.5L862.9 3544.8M805.6 3623.5L862.9 3566.2M827.1 3623.5L862.9 3587.7M848.6 3623.5L862.9 3609.2M753.9 3610.4L767 3623.5M753.9 3588.9L788.5 3623.5M753.9 3567.4L810 3623.5M753.9 3546L831.4 3623.5M753.9 3524.5L852.9 3623.5M753.9 3503L862.9 3612M753.9 3481.5L862.9 3590.5M753.9 3460L862.9 3569M753.9 3438.6L862.9 3547.6M753.9 3417.1L862.9 3526.1M753.9 3395.6L862.9 3504.6M753.9 3374.1L862.9 3483.1M753.9 3352.6L862.9 3461.6M753.9 3331.2L862.9 3440.2M753.9 3309.7L862.9 3418.7M753.9 3288.2L862.9 3397.2M753.9 3266.7L862.9 3375.7M753.9 3245.2L862.9 3354.2M753.9 3223.8L862.9 3332.8M753.9 3202.3L862.9 3311.3M753.9 3180.8L862.9 3289.8M753.9 3159.3L862.9 3268.3M753.9 3137.8L862.9 3246.8M753.9 3116.4L862.9 3225.4M753.9 3094.9L862.9 3203.9M753.9 3073.4L862.9 3182.4M753.9 3051.9L862.9 3160.9M753.9 3030.4L862.9 3139.4M753.9 3009L862.9 3118M753.9 2987.5L862.9 3096.5M753.9 2966L862.9 3075M753.9 2944.5L862.9 3053.5M753.9 2923L862.9 3032M753.9 2901.6L862.9 3010.6M753.9 2880.1L862.9 2989.1M753.9 2858.6L862.9 2967.6M753.9 2837.1L862.9 2946.1M753.9 2815.6L862.9 2924.6M753.9 2794.2L862.9 2903.2M753.9 2772.7L862.9 2881.7M754.7 2752L862.9 2860.2M776.2 2752L862.9 2838.7M797.7 2752L862.9 2817.2M819.1 2752L862.9 2795.8M840.6 2752L862.9 2774.3M862.1 2752L862.9 2752.8" stroke-width="3.1"/>
<rect x="753.9" y="2752" width="109" height="871.5" stroke-width="4.4"/>
<path d="M862.9 2866.4H971.9M862.9 2887.9H971.9M862.9 2909.3H971.9M862.9 2930.8H971.9M862.9 2952.3H971.9M862.9 2973.8H971.9M862.9 2995.3H971.9M862.9 3016.7H971.9M862.9 3038.2H971.9M862.9 3059.7H971.9M862.9 3081.2H971.9M862.9 3102.7H971.9M862.9 3124.1H971.9M862.9 3145.6H971.9M862.9 3167.1H971.9M862.9 3188.6H971.9M862.9 3210.1H971.9M862.9 3231.5H971.9M862.9 3253H971.9M862.9 3274.5H971.9M862.9 3296H971.9M862.9 3317.5H971.9M862.9 3338.9H971.9M862.9 3360.4H971.9M862.9 3381.9H971.9M862.9 3403.4H971.9M862.9 3424.9H971.9M862.9 3446.3H971.9M862.9 3467.8H971.9M862.9 3489.3H971.9M862.9 3510.8H971.9M862.9 3532.3H971.9M862.9 3553.7H971.9M862.9 3575.2H971.9M862.9 3596.7H971.9M862.9 3618.2H971.9" stroke-width="3"/>
<rect x="862.9" y="2844.5" width="109" height="779" stroke-width="4.4"/>
<path d="M971.9 2999.4L993.7 2977.6M971.9 3020.9L1015.2 2977.6M971.9 3042.3L1036.6 2977.6M971.9 3063.8L1058.1 2977.6M971.9 3085.3L1079.6 2977.6M971.9 3106.8L1080.9 2997.8M971.9 3128.3L1080.9 3019.3M971.9 3149.7L1080.9 3040.7M971.9 3171.2L1080.9 3062.2M971.9 3192.7L1080.9 3083.7M971.9 3214.2L1080.9 3105.2M971.9 3235.7L1080.9 3126.7M971.9 3257.1L1080.9 3148.1M971.9 3278.6L1080.9 3169.6M971.9 3300.1L1080.9 3191.1M971.9 3321.6L1080.9 3212.6M971.9 3343.1L1080.9 3234.1M971.9 3364.5L1080.9 3255.5M971.9 3386L1080.9 3277M971.9 3407.5L1080.9 3298.5M971.9 3429L1080.9 3320M971.9 3450.5L1080.9 3341.5M971.9 3471.9L1080.9 3362.9M971.9 3493.4L1080.9 3384.4M971.9 3514.9L1080.9 3405.9M971.9 3536.4L1080.9 3427.4M971.9 3557.9L1080.9 3448.9M971.9 3579.3L1080.9 3470.3M971.9 3600.8L1080.9 3491.8M971.9 3622.3L1080.9 3513.3M992.2 3623.5L1080.9 3534.8M1013.7 3623.5L1080.9 3556.3M1035.1 3623.5L1080.9 3577.7M1056.6 3623.5L1080.9 3599.2M1078.1 3623.5L1080.9 3620.7" stroke-width="3.1"/>
<rect x="971.9" y="2977.6" width="109" height="645.9" stroke-width="4.4"/>
<path d="M1162.3 2524.5L1183.4 2503.4M1162.3 2546L1204.9 2503.4M1162.3 2567.4L1226.3 2503.4M1162.3 2588.9L1247.8 2503.4M1162.3 2610.4L1269.3 2503.4M1162.3 2631.9L1271.3 2522.9M1162.3 2653.4L1271.3 2544.4M1162.3 2674.8L1271.3 2565.8M1162.3 2696.3L1271.3 2587.3M1162.3 2717.8L1271.3 2608.8M1162.3 2739.3L1271.3 2630.3M1162.3 2760.8L1271.3 2651.8M1162.3 2782.2L1271.3 2673.2M1162.3 2803.7L1271.3 2694.7M1162.3 2825.2L1271.3 2716.2M1162.3 2846.7L1271.3 2737.7M1162.3 2868.2L1271.3 2759.2M1162.3 2889.6L1271.3 2780.6M1162.3 2911.1L1271.3 2802.1M1162.3 2932.6L1271.3 2823.6M1162.3 2954.1L1271.3 2845.1M1162.3 2975.6L1271.3 2866.6M1162.3 2997L1271.3 2888M1162.3 3018.5L1271.3 2909.5M1162.3 3040L1271.3 2931M1162.3 3061.5L1271.3 2952.5M1162.3 3083L1271.3 2974M1162.3 3104.4L1271.3 2995.4M1162.3 3125.9L1271.3 3016.9M1162.3 3147.4L1271.3 3038.4M1162.3 3168.9L1271.3 3059.9M1162.3 3190.4L1271.3 3081.4M1162.3 3211.8L1271.3 3102.8M1162.3 3233.3L1271.3 3124.3M1162.3 3254.8L1271.3 3145.8M1162.3 3276.3L1271.3 3167.3M1162.3 3297.8L1271.3 3188.8M1162.3 3319.2L1271.3 3210.2M1162.3 3340.7L1271.3 3231.7M1162.3 3362.2L1271.3 3253.2M1162.3 3383.7L1271.3 3274.7M1162.3 3405.2L1271.3 3296.2M1162.3 3426.6L1271.3 3317.6M1162.3 3448.1L1271.3 3339.1M1162.3 3469.6L1271.3 3360.6M1162.3 3491.1L1271.3 3382.1M1162.3 3512.6L1271.3 3403.6M1162.3 3534L1271.3 3425M1162.3 3555.5L1271.3 3446.5M1162.3 3577L1271.3 3468M1162.3 3598.5L1271.3 3489.5M1162.3 3620L1271.3 3511M1180.2 3623.5L1271.3 3532.4M1201.7 3623.5L1271.3 3553.9M1223.2 3623.5L1271.3 3575.4M1244.7 3623.5L1271.3 3596.9M1266.2 3623.5L1271.3 3618.4M1162.3 3619.6L1166.2 3623.5M1162.3 3598.1L1187.7 3623.5M1162.3 3576.6L1209.2 3623.5M1162.3 3555.1L1230.7 3623.5M1162.3 3533.6L1252.2 3623.5M1162.3 3512.2L1271.3 3621.2M1162.3 3490.7L1271.3 3599.7M1162.3 3469.2L1271.3 3578.2M1162.3 3447.7L1271.3 3556.7M1162.3 3426.2L1271.3 3535.2M1162.3 3404.8L1271.3 3513.8M1162.3 3383.3L1271.3 3492.3M1162.3 3361.8L1271.3 3470.8M1162.3 3340.3L1271.3 3449.3M1162.3 3318.8L1271.3 3427.8M1162.3 3297.4L1271.3 3406.4M1162.3 3275.9L1271.3 3384.9M1162.3 3254.4L1271.3 3363.4M1162.3 3232.9L1271.3 3341.9M1162.3 3211.4L1271.3 3320.4M1162.3 3190L1271.3 3299M1162.3 3168.5L1271.3 3277.5M1162.3 3147L1271.3 3256M1162.3 3125.5L1271.3 3234.5M1162.3 3104L1271.3 3213M1162.3 3082.6L1271.3 3191.6M1162.3 3061.1L1271.3 3170.1M1162.3 3039.6L1271.3 3148.6M1162.3 3018.1L1271.3 3127.1M1162.3 2996.6L1271.3 3105.6M1162.3 2975.2L1271.3 3084.2M1162.3 2953.7L1271.3 3062.7M1162.3 2932.2L1271.3 3041.2M1162.3 2910.7L1271.3 3019.7M1162.3 2889.2L1271.3 2998.2M1162.3 2867.8L1271.3 2976.8M1162.3 2846.3L1271.3 2955.3M1162.3 2824.8L1271.3 2933.8M1162.3 2803.3L1271.3 2912.3M1162.3 2781.8L1271.3 2890.8M1162.3 2760.4L1271.3 2869.4M1162.3 2738.9L1271.3 2847.9M1162.3 2717.4L1271.3 2826.4M1162.3 2695.9L1271.3 2804.9M1162.3 2674.4L1271.3 2783.4M1162.3 2653L1271.3 2762M1162.3 2631.5L1271.3 2740.5M1162.3 2610L1271.3 2719M1162.3 2588.5L1271.3 2697.5M1162.3 2567L1271.3 2676M1162.3 2545.6L1271.3 2654.6M1162.3 2524.1L1271.3 2633.1M1163.1 2503.4L1271.3 2611.6M1184.6 2503.4L1271.3 2590.1M1206.1 2503.4L1271.3 2568.6M1227.5 2503.4L1271.3 2547.2M1249 2503.4L1271.3 2525.7M1270.5 2503.4L1271.3 2504.2" stroke-width="3.1"/>
<rect x="1162.3" y="2503.4" width="109" height="1120.1" stroke-width="4.4"/>
<path d="M1271.3 2662.3H1380.3M1271.3 2683.8H1380.3M1271.3 2705.2H1380.3M1271.3 2726.7H1380.3M1271.3 2748.2H1380.3M1271.3 2769.7H1380.3M1271.3 2791.2H1380.3M1271.3 2812.6H1380.3M1271.3 2834.1H1380.3M1271.3 2855.6H1380.3M1271.3 2877.1H1380.3M1271.3 2898.6H1380.3M1271.3 2920H1380.3M1271.3 2941.5H1380.3M1271.3 2963H1380.3M1271.3 2984.5H1380.3M1271.3 3006H1380.3M1271.3 3027.4H1380.3M1271.3 3048.9H1380.3M1271.3 3070.4H1380.3M1271.3 3091.9H1380.3M1271.3 3113.4H1380.3M1271.3 3134.8H1380.3M1271.3 3156.3H1380.3M1271.3 3177.8H1380.3M1271.3 3199.3H1380.3M1271.3 3220.8H1380.3M1271.3 3242.2H1380.3M1271.3 3263.7H1380.3M1271.3 3285.2H1380.3M1271.3 3306.7H1380.3M1271.3 3328.2H1380.3M1271.3 3349.6H1380.3M1271.3 3371.1H1380.3M1271.3 3392.6H1380.3M1271.3 3414.1H1380.3M1271.3 3435.6H1380.3M1271.3 3457H1380.3M1271.3 3478.5H1380.3M1271.3 3500H1380.3M1271.3 3521.5H1380.3M1271.3 3543H1380.3M1271.3 3564.4H1380.3M1271.3 3585.9H1380.3M1271.3 3607.4H1380.3" stroke-width="3"/>
<rect x="1271.3" y="2640.4" width="109" height="983.1" stroke-width="4.4"/>
<path d="M1380.3 2846.2L1402.1 2824.4M1380.3 2867.7L1423.6 2824.4M1380.3 2889.1L1445 2824.4M1380.3 2910.6L1466.5 2824.4M1380.3 2932.1L1488 2824.4M1380.3 2953.6L1489.3 2844.6M1380.3 2975.1L1489.3 2866.1M1380.3 2996.5L1489.3 2887.5M1380.3 3018L1489.3 2909M1380.3 3039.5L1489.3 2930.5M1380.3 3061L1489.3 2952M1380.3 3082.5L1489.3 2973.5M1380.3 3103.9L1489.3 2994.9M1380.3 3125.4L1489.3 3016.4M1380.3 3146.9L1489.3 3037.9M1380.3 3168.4L1489.3 3059.4M1380.3 3189.9L1489.3 3080.9M1380.3 3211.3L1489.3 3102.3M1380.3 3232.8L1489.3 3123.8M1380.3 3254.3L1489.3 3145.3M1380.3 3275.8L1489.3 3166.8M1380.3 3297.3L1489.3 3188.3M1380.3 3318.7L1489.3 3209.7M1380.3 3340.2L1489.3 3231.2M1380.3 3361.7L1489.3 3252.7M1380.3 3383.2L1489.3 3274.2M1380.3 3404.7L1489.3 3295.7M1380.3 3426.1L1489.3 3317.1M1380.3 3447.6L1489.3 3338.6M1380.3 3469.1L1489.3 3360.1M1380.3 3490.6L1489.3 3381.6M1380.3 3512.1L1489.3 3403.1M1380.3 3533.5L1489.3 3424.5M1380.3 3555L1489.3 3446M1380.3 3576.5L1489.3 3467.5M1380.3 3598L1489.3 3489M1380.3 3619.5L1489.3 3510.5M1397.7 3623.5L1489.3 3531.9M1419.2 3623.5L1489.3 3553.4M1440.7 3623.5L1489.3 3574.9M1462.2 3623.5L1489.3 3596.4M1483.7 3623.5L1489.3 3617.9" stroke-width="3.1"/>
<rect x="1380.3" y="2824.4" width="109" height="799.1" stroke-width="4.4"/>
<path d="M1570.7 2378.6L1591.8 2357.5M1570.7 2400.1L1613.3 2357.5M1570.7 2421.5L1634.7 2357.5M1570.7 2443L1656.2 2357.5M1570.7 2464.5L1677.7 2357.5M1570.7 2486L1679.7 2377M1570.7 2507.5L1679.7 2398.5M1570.7 2528.9L1679.7 2419.9M1570.7 2550.4L1679.7 2441.4M1570.7 2571.9L1679.7 2462.9M1570.7 2593.4L1679.7 2484.4M1570.7 2614.9L1679.7 2505.9M1570.7 2636.3L1679.7 2527.3M1570.7 2657.8L1679.7 2548.8M1570.7 2679.3L1679.7 2570.3M1570.7 2700.8L1679.7 2591.8M1570.7 2722.3L1679.7 2613.3M1570.7 2743.7L1679.7 2634.7M1570.7 2765.2L1679.7 2656.2M1570.7 2786.7L1679.7 2677.7M1570.7 2808.2L1679.7 2699.2M1570.7 2829.7L1679.7 2720.7M1570.7 2851.1L1679.7 2742.1M1570.7 2872.6L1679.7 2763.6M1570.7 2894.1L1679.7 2785.1M1570.7 2915.6L1679.7 2806.6M1570.7 2937.1L1679.7 2828.1M1570.7 2958.5L1679.7 2849.5M1570.7 2980L1679.7 2871M1570.7 3001.5L1679.7 2892.5M1570.7 3023L1679.7 2914M1570.7 3044.5L1679.7 2935.5M1570.7 3065.9L1679.7 2956.9M1570.7 3087.4L1679.7 2978.4M1570.7 3108.9L1679.7 2999.9M1570.7 3130.4L1679.7 3021.4M1570.7 3151.9L1679.7 3042.9M1570.7 3173.3L1679.7 3064.3M1570.7 3194.8L1679.7 3085.8M1570.7 3216.3L1679.7 3107.3M1570.7 3237.8L1679.7 3128.8M1570.7 3259.3L1679.7 3150.3M1570.7 3280.7L1679.7 3171.7M1570.7 3302.2L1679.7 3193.2M1570.7 3323.7L1679.7 3214.7M1570.7 3345.2L1679.7 3236.2M1570.7 3366.7L1679.7 3257.7M1570.7 3388.1L1679.7 3279.1M1570.7 3409.6L1679.7 3300.6M1570.7 3431.1L1679.7 3322.1M1570.7 3452.6L1679.7 3343.6M1570.7 3474.1L1679.7 3365.1M1570.7 3495.5L1679.7 3386.5M1570.7 3517L1679.7 3408M1570.7 3538.5L1679.7 3429.5M1570.7 3560L1679.7 3451M1570.7 3581.5L1679.7 3472.5M1570.7 3602.9L1679.7 3493.9M1571.6 3623.5L1679.7 3515.4M1593.1 3623.5L1679.7 3536.9M1614.6 3623.5L1679.7 3558.4M1636.1 3623.5L1679.7 3579.9M1657.5 3623.5L1679.7 3601.3M1679 3623.5L1679.7 3622.8M1570.7 3602.5L1591.7 3623.5M1570.7 3581.1L1613.1 3623.5M1570.7 3559.6L1634.6 3623.5M1570.7 3538.1L1656.1 3623.5M1570.7 3516.6L1677.6 3623.5M1570.7 3495.1L1679.7 3604.1M1570.7 3473.7L1679.7 3582.7M1570.7 3452.2L1679.7 3561.2M1570.7 3430.7L1679.7 3539.7M1570.7 3409.2L1679.7 3518.2M1570.7 3387.7L1679.7 3496.7M1570.7 3366.3L1679.7 3475.3M1570.7 3344.8L1679.7 3453.8M1570.7 3323.3L1679.7 3432.3M1570.7 3301.8L1679.7 3410.8M1570.7 3280.3L1679.7 3389.3M1570.7 3258.9L1679.7 3367.9M1570.7 3237.4L1679.7 3346.4M1570.7 3215.9L1679.7 3324.9M1570.7 3194.4L1679.7 3303.4M1570.7 3172.9L1679.7 3281.9M1570.7 3151.5L1679.7 3260.5M1570.7 3130L1679.7 3239M1570.7 3108.5L1679.7 3217.5M1570.7 3087L1679.7 3196M1570.7 3065.5L1679.7 3174.5M1570.7 3044.1L1679.7 3153.1M1570.7 3022.6L1679.7 3131.6M1570.7 3001.1L1679.7 3110.1M1570.7 2979.6L1679.7 3088.6M1570.7 2958.1L1679.7 3067.1M1570.7 2936.7L1679.7 3045.7M1570.7 2915.2L1679.7 3024.2M1570.7 2893.7L1679.7 3002.7M1570.7 2872.2L1679.7 2981.2M1570.7 2850.7L1679.7 2959.7M1570.7 2829.3L1679.7 2938.3M1570.7 2807.8L1679.7 2916.8M1570.7 2786.3L1679.7 2895.3M1570.7 2764.8L1679.7 2873.8M1570.7 2743.3L1679.7 2852.3M1570.7 2721.9L1679.7 2830.9M1570.7 2700.4L1679.7 2809.4M1570.7 2678.9L1679.7 2787.9M1570.7 2657.4L1679.7 2766.4M1570.7 2635.9L1679.7 2744.9M1570.7 2614.5L1679.7 2723.5M1570.7 2593L1679.7 2702M1570.7 2571.5L1679.7 2680.5M1570.7 2550L1679.7 2659M1570.7 2528.5L1679.7 2637.5M1570.7 2507.1L1679.7 2616.1M1570.7 2485.6L1679.7 2594.6M1570.7 2464.1L1679.7 2573.1M1570.7 2442.6L1679.7 2551.6M1570.7 2421.1L1679.7 2530.1M1570.7 2399.7L1679.7 2508.7M1570.7 2378.2L1679.7 2487.2M1571.5 2357.5L1679.7 2465.7M1593 2357.5L1679.7 2444.2M1614.5 2357.5L1679.7 2422.7M1635.9 2357.5L1679.7 2401.3M1657.4 2357.5L1679.7 2379.8M1678.9 2357.5L1679.7 2358.3" stroke-width="3.1"/>
<rect x="1570.7" y="2357.5" width="109" height="1266" stroke-width="4.4"/>
<path d="M1679.7 2536.6H1788.7M1679.7 2558.1H1788.7M1679.7 2579.5H1788.7M1679.7 2601H1788.7M1679.7 2622.5H1788.7M1679.7 2644H1788.7M1679.7 2665.5H1788.7M1679.7 2686.9H1788.7M1679.7 2708.4H1788.7M1679.7 2729.9H1788.7M1679.7 2751.4H1788.7M1679.7 2772.9H1788.7M1679.7 2794.3H1788.7M1679.7 2815.8H1788.7M1679.7 2837.3H1788.7M1679.7 2858.8H1788.7M1679.7 2880.3H1788.7M1679.7 2901.7H1788.7M1679.7 2923.2H1788.7M1679.7 2944.7H1788.7M1679.7 2966.2H1788.7M1679.7 2987.7H1788.7M1679.7 3009.1H1788.7M1679.7 3030.6H1788.7M1679.7 3052.1H1788.7M1679.7 3073.6H1788.7M1679.7 3095.1H1788.7M1679.7 3116.5H1788.7M1679.7 3138H1788.7M1679.7 3159.5H1788.7M1679.7 3181H1788.7M1679.7 3202.5H1788.7M1679.7 3223.9H1788.7M1679.7 3245.4H1788.7M1679.7 3266.9H1788.7M1679.7 3288.4H1788.7M1679.7 3309.9H1788.7M1679.7 3331.3H1788.7M1679.7 3352.8H1788.7M1679.7 3374.3H1788.7M1679.7 3395.8H1788.7M1679.7 3417.3H1788.7M1679.7 3438.7H1788.7M1679.7 3460.2H1788.7M1679.7 3481.7H1788.7M1679.7 3503.2H1788.7M1679.7 3524.7H1788.7M1679.7 3546.1H1788.7M1679.7 3567.6H1788.7M1679.7 3589.1H1788.7M1679.7 3610.6H1788.7" stroke-width="3"/>
<rect x="1679.7" y="2514.7" width="109" height="1108.8" stroke-width="4.4"/>
<path d="M1788.7 2746.9L1810.5 2725.1M1788.7 2768.4L1832 2725.1M1788.7 2789.8L1853.4 2725.1M1788.7 2811.3L1874.9 2725.1M1788.7 2832.8L1896.4 2725.1M1788.7 2854.3L1897.7 2745.3M1788.7 2875.8L1897.7 2766.8M1788.7 2897.2L1897.7 2788.2M1788.7 2918.7L1897.7 2809.7M1788.7 2940.2L1897.7 2831.2M1788.7 2961.7L1897.7 2852.7M1788.7 2983.2L1897.7 2874.2M1788.7 3004.6L1897.7 2895.6M1788.7 3026.1L1897.7 2917.1M1788.7 3047.6L1897.7 2938.6M1788.7 3069.1L1897.7 2960.1M1788.7 3090.6L1897.7 2981.6M1788.7 3112L1897.7 3003M1788.7 3133.5L1897.7 3024.5M1788.7 3155L1897.7 3046M1788.7 3176.5L1897.7 3067.5M1788.7 3198L1897.7 3089M1788.7 3219.4L1897.7 3110.4M1788.7 3240.9L1897.7 3131.9M1788.7 3262.4L1897.7 3153.4M1788.7 3283.9L1897.7 3174.9M1788.7 3305.4L1897.7 3196.4M1788.7 3326.8L1897.7 3217.8M1788.7 3348.3L1897.7 3239.3M1788.7 3369.8L1897.7 3260.8M1788.7 3391.3L1897.7 3282.3M1788.7 3412.8L1897.7 3303.8M1788.7 3434.2L1897.7 3325.2M1788.7 3455.7L1897.7 3346.7M1788.7 3477.2L1897.7 3368.2M1788.7 3498.7L1897.7 3389.7M1788.7 3520.2L1897.7 3411.2M1788.7 3541.6L1897.7 3432.6M1788.7 3563.1L1897.7 3454.1M1788.7 3584.6L1897.7 3475.6M1788.7 3606.1L1897.7 3497.1M1792.8 3623.5L1897.7 3518.6M1814.2 3623.5L1897.7 3540M1835.7 3623.5L1897.7 3561.5M1857.2 3623.5L1897.7 3583M1878.7 3623.5L1897.7 3604.5" stroke-width="3.1"/>
<rect x="1788.7" y="2725.1" width="109" height="898.4" stroke-width="4.4"/>
<path d="M1979.1 2257.9L2000.2 2236.8M1979.1 2279.4L2021.7 2236.8M1979.1 2300.8L2043.1 2236.8M1979.1 2322.3L2064.6 2236.8M1979.1 2343.8L2086.1 2236.8M1979.1 2365.3L2088.1 2256.3M1979.1 2386.8L2088.1 2277.8M1979.1 2408.2L2088.1 2299.2M1979.1 2429.7L2088.1 2320.7M1979.1 2451.2L2088.1 2342.2M1979.1 2472.7L2088.1 2363.7M1979.1 2494.2L2088.1 2385.2M1979.1 2515.6L2088.1 2406.6M1979.1 2537.1L2088.1 2428.1M1979.1 2558.6L2088.1 2449.6M1979.1 2580.1L2088.1 2471.1M1979.1 2601.6L2088.1 2492.6M1979.1 2623L2088.1 2514M1979.1 2644.5L2088.1 2535.5M1979.1 2666L2088.1 2557M1979.1 2687.5L2088.1 2578.5M1979.1 2709L2088.1 2600M1979.1 2730.4L2088.1 2621.4M1979.1 2751.9L2088.1 2642.9M1979.1 2773.4L2088.1 2664.4M1979.1 2794.9L2088.1 2685.9M1979.1 2816.4L2088.1 2707.4M1979.1 2837.8L2088.1 2728.8M1979.1 2859.3L2088.1 2750.3M1979.1 2880.8L2088.1 2771.8M1979.1 2902.3L2088.1 2793.3M1979.1 2923.8L2088.1 2814.8M1979.1 2945.2L2088.1 2836.2M1979.1 2966.7L2088.1 2857.7M1979.1 2988.2L2088.1 2879.2M1979.1 3009.7L2088.1 2900.7M1979.1 3031.2L2088.1 2922.2M1979.1 3052.6L2088.1 2943.6M1979.1 3074.1L2088.1 2965.1M1979.1 3095.6L2088.1 2986.6M1979.1 3117.1L2088.1 3008.1M1979.1 3138.6L2088.1 3029.6M1979.1 3160L2088.1 3051M1979.1 3181.5L2088.1 3072.5M1979.1 3203L2088.1 3094M1979.1 3224.5L2088.1 3115.5M1979.1 3246L2088.1 3137M1979.1 3267.4L2088.1 3158.4M1979.1 3288.9L2088.1 3179.9M1979.1 3310.4L2088.1 3201.4M1979.1 3331.9L2088.1 3222.9M1979.1 3353.4L2088.1 3244.4M1979.1 3374.8L2088.1 3265.8M1979.1 3396.3L2088.1 3287.3M1979.1 3417.8L2088.1 3308.8M1979.1 3439.3L2088.1 3330.3M1979.1 3460.8L2088.1 3351.8M1979.1 3482.2L2088.1 3373.2M1979.1 3503.7L2088.1 3394.7M1979.1 3525.2L2088.1 3416.2M1979.1 3546.7L2088.1 3437.7M1979.1 3568.2L2088.1 3459.2M1979.1 3589.6L2088.1 3480.6M1979.1 3611.1L2088.1 3502.1M1988.2 3623.5L2088.1 3523.6M2009.7 3623.5L2088.1 3545.1M2031.2 3623.5L2088.1 3566.6M2052.6 3623.5L2088.1 3588M2074.1 3623.5L2088.1 3609.5M1979.1 3610.7L1991.9 3623.5M1979.1 3589.2L2013.4 3623.5M1979.1 3567.8L2034.8 3623.5M1979.1 3546.3L2056.3 3623.5M1979.1 3524.8L2077.8 3623.5M1979.1 3503.3L2088.1 3612.3M1979.1 3481.8L2088.1 3590.8M1979.1 3460.4L2088.1 3569.4M1979.1 3438.9L2088.1 3547.9M1979.1 3417.4L2088.1 3526.4M1979.1 3395.9L2088.1 3504.9M1979.1 3374.4L2088.1 3483.4M1979.1 3353L2088.1 3462M1979.1 3331.5L2088.1 3440.5M1979.1 3310L2088.1 3419M1979.1 3288.5L2088.1 3397.5M1979.1 3267L2088.1 3376M1979.1 3245.6L2088.1 3354.6M1979.1 3224.1L2088.1 3333.1M1979.1 3202.6L2088.1 3311.6M1979.1 3181.1L2088.1 3290.1M1979.1 3159.6L2088.1 3268.6M1979.1 3138.2L2088.1 3247.2M1979.1 3116.7L2088.1 3225.7M1979.1 3095.2L2088.1 3204.2M1979.1 3073.7L2088.1 3182.7M1979.1 3052.2L2088.1 3161.2M1979.1 3030.8L2088.1 3139.8M1979.1 3009.3L2088.1 3118.3M1979.1 2987.8L2088.1 3096.8M1979.1 2966.3L2088.1 3075.3M1979.1 2944.8L2088.1 3053.8M1979.1 2923.4L2088.1 3032.4M1979.1 2901.9L2088.1 3010.9M1979.1 2880.4L2088.1 2989.4M1979.1 2858.9L2088.1 2967.9M1979.1 2837.4L2088.1 2946.4M1979.1 2816L2088.1 2925M1979.1 2794.5L2088.1 2903.5M1979.1 2773L2088.1 2882M1979.1 2751.5L2088.1 2860.5M1979.1 2730L2088.1 2839M1979.1 2708.6L2088.1 2817.6M1979.1 2687.1L2088.1 2796.1M1979.1 2665.6L2088.1 2774.6M1979.1 2644.1L2088.1 2753.1M1979.1 2622.6L2088.1 2731.6M1979.1 2601.2L2088.1 2710.2M1979.1 2579.7L2088.1 2688.7M1979.1 2558.2L2088.1 2667.2M1979.1 2536.7L2088.1 2645.7M1979.1 2515.2L2088.1 2624.2M1979.1 2493.8L2088.1 2602.8M1979.1 2472.3L2088.1 2581.3M1979.1 2450.8L2088.1 2559.8M1979.1 2429.3L2088.1 2538.3M1979.1 2407.8L2088.1 2516.8M1979.1 2386.4L2088.1 2495.4M1979.1 2364.9L2088.1 2473.9M1979.1 2343.4L2088.1 2452.4M1979.1 2321.9L2088.1 2430.9M1979.1 2300.4L2088.1 2409.4M1979.1 2279L2088.1 2388M1979.1 2257.5L2088.1 2366.5M1979.9 2236.8L2088.1 2345M2001.4 2236.8L2088.1 2323.5M2022.9 2236.8L2088.1 2302M2044.3 2236.8L2088.1 2280.6M2065.8 2236.8L2088.1 2259.1M2087.3 2236.8L2088.1 2237.6" stroke-width="3.1"/>
<rect x="1979.1" y="2236.8" width="109" height="1386.7" stroke-width="4.4"/>
<path d="M2088.1 2426.5H2197.1M2088.1 2448H2197.1M2088.1 2469.4H2197.1M2088.1 2490.9H2197.1M2088.1 2512.4H2197.1M2088.1 2533.9H2197.1M2088.1 2555.4H2197.1M2088.1 2576.8H2197.1M2088.1 2598.3H2197.1M2088.1 2619.8H2197.1M2088.1 2641.3H2197.1M2088.1 2662.8H2197.1M2088.1 2684.2H2197.1M2088.1 2705.7H2197.1M2088.1 2727.2H2197.1M2088.1 2748.7H2197.1M2088.1 2770.2H2197.1M2088.1 2791.6H2197.1M2088.1 2813.1H2197.1M2088.1 2834.6H2197.1M2088.1 2856.1H2197.1M2088.1 2877.6H2197.1M2088.1 2899H2197.1M2088.1 2920.5H2197.1M2088.1 2942H2197.1M2088.1 2963.5H2197.1M2088.1 2985H2197.1M2088.1 3006.4H2197.1M2088.1 3027.9H2197.1M2088.1 3049.4H2197.1M2088.1 3070.9H2197.1M2088.1 3092.4H2197.1M2088.1 3113.8H2197.1M2088.1 3135.3H2197.1M2088.1 3156.8H2197.1M2088.1 3178.3H2197.1M2088.1 3199.8H2197.1M2088.1 3221.2H2197.1M2088.1 3242.7H2197.1M2088.1 3264.2H2197.1M2088.1 3285.7H2197.1M2088.1 3307.2H2197.1M2088.1 3328.6H2197.1M2088.1 3350.1H2197.1M2088.1 3371.6H2197.1M2088.1 3393.1H2197.1M2088.1 3414.6H2197.1M2088.1 3436H2197.1M2088.1 3457.5H2197.1M2088.1 3479H2197.1M2088.1 3500.5H2197.1M2088.1 3522H2197.1M2088.1 3543.4H2197.1M2088.1 3564.9H2197.1M2088.1 3586.4H2197.1M2088.1 3607.9H2197.1" stroke-width="3"/>
<rect x="2088.1" y="2404.6" width="109" height="1218.9" stroke-width="4.4"/>
<path d="M2197.1 2630.5L2218.9 2608.7M2197.1 2652L2240.4 2608.7M2197.1 2673.4L2261.8 2608.7M2197.1 2694.9L2283.3 2608.7M2197.1 2716.4L2304.8 2608.7M2197.1 2737.9L2306.1 2628.9M2197.1 2759.4L2306.1 2650.4M2197.1 2780.8L2306.1 2671.8M2197.1 2802.3L2306.1 2693.3M2197.1 2823.8L2306.1 2714.8M2197.1 2845.3L2306.1 2736.3M2197.1 2866.8L2306.1 2757.8M2197.1 2888.2L2306.1 2779.2M2197.1 2909.7L2306.1 2800.7M2197.1 2931.2L2306.1 2822.2M2197.1 2952.7L2306.1 2843.7M2197.1 2974.2L2306.1 2865.2M2197.1 2995.6L2306.1 2886.6M2197.1 3017.1L2306.1 2908.1M2197.1 3038.6L2306.1 2929.6M2197.1 3060.1L2306.1 2951.1M2197.1 3081.6L2306.1 2972.6M2197.1 3103L2306.1 2994M2197.1 3124.5L2306.1 3015.5M2197.1 3146L2306.1 3037M2197.1 3167.5L2306.1 3058.5M2197.1 3189L2306.1 3080M2197.1 3210.4L2306.1 3101.4M2197.1 3231.9L2306.1 3122.9M2197.1 3253.4L2306.1 3144.4M2197.1 3274.9L2306.1 3165.9M2197.1 3296.4L2306.1 3187.4M2197.1 3317.8L2306.1 3208.8M2197.1 3339.3L2306.1 3230.3M2197.1 3360.8L2306.1 3251.8M2197.1 3382.3L2306.1 3273.3M2197.1 3403.8L2306.1 3294.8M2197.1 3425.2L2306.1 3316.2M2197.1 3446.7L2306.1 3337.7M2197.1 3468.2L2306.1 3359.2M2197.1 3489.7L2306.1 3380.7M2197.1 3511.2L2306.1 3402.2M2197.1 3532.6L2306.1 3423.6M2197.1 3554.1L2306.1 3445.1M2197.1 3575.6L2306.1 3466.6M2197.1 3597.1L2306.1 3488.1M2197.1 3618.6L2306.1 3509.6M2213.6 3623.5L2306.1 3531M2235.1 3623.5L2306.1 3552.5M2256.6 3623.5L2306.1 3574M2278.1 3623.5L2306.1 3595.5M2299.6 3623.5L2306.1 3617" stroke-width="3.1"/>
<rect x="2197.1" y="2608.7" width="109" height="1014.8" stroke-width="4.4"/>
<path d="M399.4 2963V3159.4M383.8 2963H416.2M383.8 3159.4H416.2" stroke-width="3"/>
<path d="M507.8 3063.6V3213.9M492.2 3063.6H524.6M492.2 3213.9H524.6" stroke-width="3"/>
<path d="M617.3 3131.3V3275.6M601.6 3131.3H634.1M601.6 3275.6H634.1" stroke-width="3"/>
<path d="M807.7 2644.3V2857M792.1 2644.3H824.6M792.1 2857H824.6" stroke-width="3"/>
<path d="M916.4 2760.4V2926.5M900.8 2760.4H933.2M900.8 2926.5H933.2" stroke-width="3"/>
<path d="M1025.3 2856.2V3097.2M1009.6 2856.2H1042.1M1009.6 3097.2H1042.1" stroke-width="3"/>
<path d="M1215.8 2419.7V2586M1200.1 2419.7H1232.6M1200.1 2586H1232.6" stroke-width="3"/>
<path d="M1325.8 2567V2713.1M1310.1 2567H1342.6M1310.1 2713.1H1342.6" stroke-width="3"/>
<path d="M1433.7 2683.3V2962.7M1418 2683.3H1450.5M1418 2962.7H1450.5" stroke-width="3"/>
<path d="M1624.8 2266.4V2442.7M1609.1 2266.4H1641.6M1609.1 2442.7H1641.6" stroke-width="3"/>
<path d="M1734 2436.2V2592.4M1718.3 2436.2H1750.8M1718.3 2592.4H1750.8" stroke-width="3"/>
<path d="M1843.4 2568.2V2878.1M1827.8 2568.2H1860.2M1827.8 2878.1H1860.2" stroke-width="3"/>
<path d="M2033.3 2162.3V2309M2017.6 2162.3H2050.2M2017.6 2309H2050.2" stroke-width="3"/>
<path d="M2142.8 2335.2V2471.2M2127.2 2335.2H2159.7M2127.2 2471.2H2159.7" stroke-width="3"/>
<path d="M2252.3 2432.3V2784.3M2236.7 2432.3H2269.2M2236.7 2784.3H2269.2" stroke-width="3"/>
<rect x="263.2" y="2059.3" width="2124.8" height="1564.2" stroke-width="5.9"/>
<path d="M263.2 3623.5H229.2M2388 3623.5H2354M263.2 3393.4H244.7M2388 3393.4H2369.5M263.2 3163.4H229.2M2388 3163.4H2354M263.2 2933.3H244.7M2388 2933.3H2369.5M263.2 2703.2H229.2M2388 2703.2H2354M263.2 2473.2H244.7M2388 2473.2H2369.5M263.2 2243.1H229.2M2388 2243.1H2354M507.6 3623.5V3657.5M916.2 3623.5V3657.5M1324.8 3623.5V3657.5M1733.4 3623.5V3657.5M2142 3623.5V3657.5" stroke-width="5.9"/>
<rect x="376.3" y="2145.8" width="385.1" height="286.6" fill="#fff" stroke-width="2.5"/>
<path d="M389 2185L410.1 2163.9M389 2206.5L431.6 2163.9M389 2227.9L453 2163.9M409.1 2229.3L474.5 2163.9M430.6 2229.3L496 2163.9M452.1 2229.3L517.5 2163.9M473.6 2229.3L539 2163.9M495 2229.3L558.4 2165.9M516.5 2229.3L558.4 2187.4M538 2229.3L558.4 2208.9M389 2227.5L390.8 2229.3M389 2206.1L412.2 2229.3M389 2184.6L433.7 2229.3M389.8 2163.9L455.2 2229.3M411.3 2163.9L476.7 2229.3M432.8 2163.9L498.2 2229.3M454.2 2163.9L519.6 2229.3M475.7 2163.9L541.1 2229.3M497.2 2163.9L558.4 2225.1M518.7 2163.9L558.4 2203.6M540.2 2163.9L558.4 2182.1" stroke-width="3.1"/>
<rect x="389" y="2163.9" width="169.4" height="65.4" stroke-width="4.4"/>
<path d="M389 2279.9H558.4M389 2301.4H558.4M389 2322.8H558.4" stroke-width="3"/>
<rect x="389" y="2258" width="169.4" height="66.3" stroke-width="4.4"/>
<path d="M389 2375.5L410.8 2353.7M389 2397L432.3 2353.7M389 2418.4L453.7 2353.7M410.5 2418.4L475.2 2353.7M432 2418.4L496.7 2353.7M453.5 2418.4L518.2 2353.7M475 2418.4L539.7 2353.7M496.4 2418.4L558.4 2356.4M517.9 2418.4L558.4 2377.9M539.4 2418.4L558.4 2399.4" stroke-width="3.1"/>
<rect x="389" y="2353.7" width="169.4" height="64.7" stroke-width="4.4"/>
</g>
<g class="t" font-size="62.5">
<text transform="translate(208.6 3637.8) scale(1 1)" text-anchor="end">0</text>
<text transform="translate(208.6 3178.6) scale(1 1)" text-anchor="end">50</text>
<text transform="translate(208.6 2718.4) scale(1 1)" text-anchor="end">100</text>
<text transform="translate(208.6 2259.1) scale(1 1)" text-anchor="end">150</text>
<text transform="translate(505.6 3726) scale(1 1)" text-anchor="middle">5%</text>
<text transform="translate(914.2 3726) scale(1 1)" text-anchor="middle">10%</text>
<text transform="translate(1322.8 3726) scale(1 1)" text-anchor="middle">15%</text>
<text transform="translate(1731.4 3726) scale(1 1)" text-anchor="middle">20%</text>
<text transform="translate(2140 3726) scale(1 1)" text-anchor="middle">25%</text>
</g>
<g class="t" font-size="77.6">
<text transform="translate(580.5 2221.4) scale(1 1)">MST</text>
<text transform="translate(581.9 2317.2) scale(1 1)">SPT</text>
<text transform="translate(581.7 2411.3) scale(1 1)">ASC</text>
<text transform="translate(0 3832.8) scale(1 1)"><tspan x="752.3">Percentage</tspan> <tspan x="1173.9">of</tspan> <tspan x="1259.3">Destiantion</tspan> <tspan x="1670.2">Nodes</tspan></text>
<text transform="translate(71.8 0) rotate(-90) scale(1 1.03)"><tspan x="-3279.8" letter-spacing="-0.3">Total</tspan> <tspan x="-3086.6" letter-spacing="-0.5">Energy</tspan> <tspan x="-2820.4" letter-spacing="-0.1">Cost(mJ)</tspan></text>
</g>
<text class="s" y="3955.2" font-size="86.2"><tspan x="1142.1">(</tspan><tspan x="1167.6" y="3956.4" font-size="86.5" font-weight="bold">b</tspan><tspan x="1217.3" y="3955.2">)</tspan></text>
</svg></body></html>
